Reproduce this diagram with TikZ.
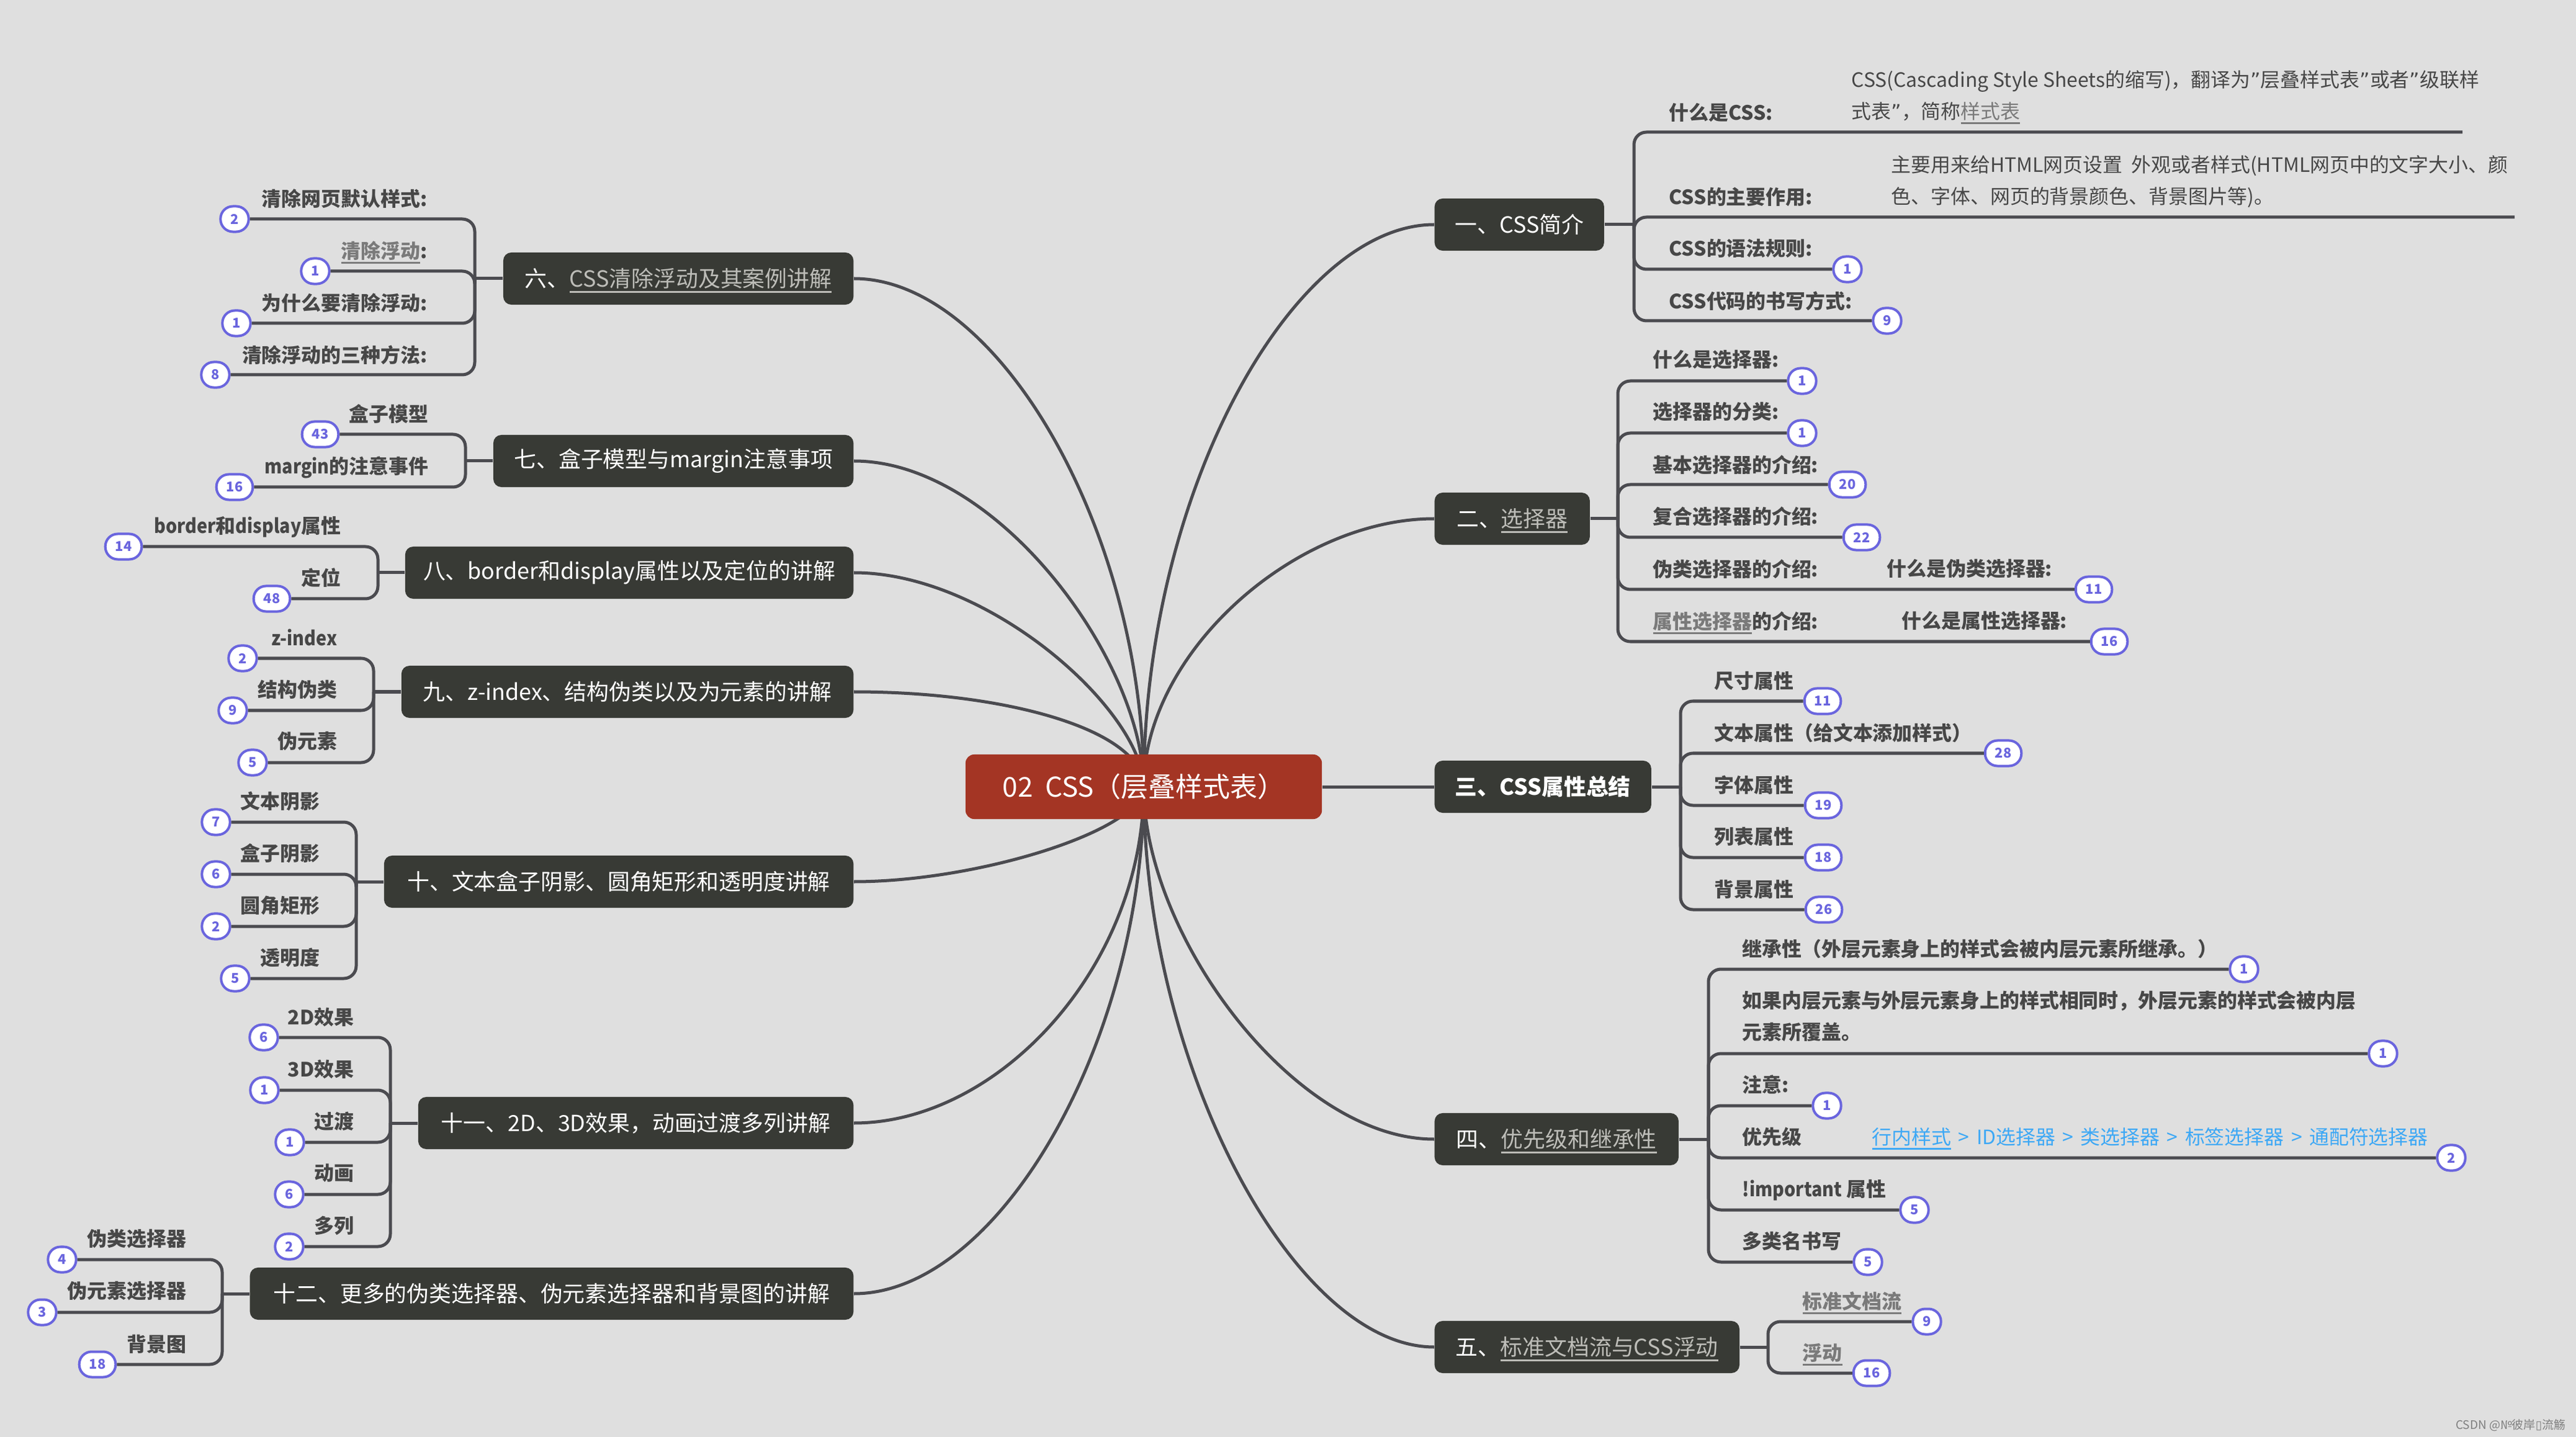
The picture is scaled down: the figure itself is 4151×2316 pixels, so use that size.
\documentclass[tikz,border=0pt]{standalone}
\usepackage{fontspec}
\setmainfont{Noto Sans CJK SC}
\newfontfamily\symfont{DejaVu Sans}
\usetikzlibrary{backgrounds}
\definecolor{paper}{HTML}{DFDFDF}
\definecolor{rootred}{HTML}{A43524}
\definecolor{boxdark}{HTML}{383A35}
\definecolor{wire}{HTML}{4B4B50}
\definecolor{inkdark}{HTML}{474747}
\definecolor{inkgray}{HTML}{7A7A7A}
\definecolor{boxgray}{HTML}{BDBDB8}
\definecolor{ringblue}{HTML}{6A65DE}
\definecolor{linkblue}{HTML}{3DA8F5}
\newcommand{\ulined}[1]{\setbox0=\hbox{#1}\rlap{\smash{\rule[-0.09cm]{\wd0}{0.03cm}}}\box0}
\newcommand{\inklink}[1]{{\color{inkgray}\ulined{#1}}}
\newcommand{\boxlink}[1]{{\color{boxgray}\ulined{#1}}}
\newcommand{\nar}[1]{{\addfontfeature{FakeStretch=0.9}#1}}
\newcommand{\gtsep}{\hspace{0.115cm}>\hspace{0.115cm}}
\newcommand{\nq}{{\symfont ”}}
\tikzset{
    rootbox/.style={rectangle,rounded corners=0.14cm,fill=rootred,text=white,minimum width=5.74cm,minimum height=1.04cm,inner sep=0pt,font=\fontsize{12.5pt}{15pt}\selectfont},
    brbox/.style={rectangle,rounded corners=0.13cm,fill=boxdark,text=white,minimum height=0.84cm,inner sep=0pt,font=\fontsize{10.2pt}{13pt}\selectfont},
    leaf/.style={inner sep=0pt,text=inkdark,align=left,font=\fontsize{9.07pt}{14.5pt}\selectfont\bfseries},
    note/.style={inner sep=0pt,text=inkdark,align=left,anchor=west,font=\fontsize{9.07pt}{14.5pt}\selectfont},
    badge/.style={rectangle,draw=ringblue,line width=0.04cm,fill=white,text=ringblue,rounded corners=0.2cm,minimum height=0.41cm,minimum width=0.42cm,inner xsep=0.16cm,inner ysep=0pt,font=\fontsize{6.2pt}{7pt}\selectfont\bfseries},
    limb/.style={draw=wire,line width=0.05cm},
    twig/.style={draw=wire,line width=0.05cm,rounded corners=0.2cm},
}
\begin{document}
\begin{tikzpicture}[x=0.01cm,y=-0.01cm]
    \useasboundingbox (0,0) rectangle (4151,2316);
    \node[rootbox] (root) at (1843,1268) {02\ \ CSS（层叠样式表）};
    % right side
    \node[brbox,anchor=west,minimum width=2.73cm] (b1) at (2311,362) {一、CSS简介};
    \node[brbox,anchor=west,minimum width=2.50cm] (b2) at (2311,836) {二、\boxlink{选择器}};
    \node[brbox,anchor=west,minimum width=3.49cm] (b3) at (2311,1268) {\bfseries 三、CSS属性总结};
    \node[brbox,anchor=west,minimum width=3.93cm] (b4) at (2311,1836) {四、\boxlink{优先级和继承性}};
    \node[brbox,anchor=west,minimum width=4.91cm] (b5) at (2311,2171) {五、\boxlink{标准文档流与CSS浮动}};
    % left side
    \node[brbox,anchor=east,minimum width=5.64cm] (b6) at (1376,449) {六、\boxlink{CSS清除浮动及其案例讲解}};
    \node[brbox,anchor=east,minimum width=5.80cm] (b7) at (1376,743) {七、盒子模型与margin注意事项};
    \node[brbox,anchor=east,minimum width=7.22cm] (b8) at (1376,923) {八、border和display属性以及定位的讲解};
    \node[brbox,anchor=east,minimum width=7.28cm] (b9) at (1376,1115) {九、z-index、结构伪类以及为元素的讲解};
    \node[brbox,anchor=east,minimum width=7.56cm] (b10) at (1376,1421) {十、文本盒子阴影、圆角矩形和透明度讲解};
    \node[brbox,anchor=east,minimum width=7.01cm] (b11) at (1376,1810) {十一、2D、3D效果，动画过渡多列讲解};
    \node[brbox,anchor=east,minimum width=9.72cm] (b12) at (1376,2085) {十二、更多的伪类选择器、伪元素选择器和背景图的讲解};
    \begin{scope}[on background layer]
        \fill[paper] (0,0) rectangle (4151,2316);
        \draw[limb] (root.center) .. controls +(0,-480) and +(-225,0) .. (b1.west);
        \draw[limb] (root.center) .. controls +(0,-215) and +(-225,0) .. (b2.west);
        \draw[limb] (root.east) -- (b3.west);
        \draw[limb] (root.center) .. controls +(0,240) and +(-225,0) .. (b4.west);
        \draw[limb] (root.center) .. controls +(0,450) and +(-225,0) .. (b5.west);
        \draw[limb] (root.center) .. controls +(0,-410) and +(233,0) .. (b6.east);
        \draw[limb] (root.center) .. controls +(0,-200) and +(233,0) .. (b7.east);
        \draw[limb] (root.center) .. controls +(0,-120) and +(220,0) .. (b8.east);
        \draw[limb] (root.center) .. controls +(0,-90) and +(250,0) .. (b9.east);
        \draw[limb] (root.center) .. controls +(0,70) and +(200,0) .. (b10.east);
        \draw[limb] (root.center) .. controls +(0,290) and +(233,0) .. (b11.east);
        \draw[limb] (root.center) .. controls +(0,410) and +(233,0) .. (b12.east);
    \end{scope}
    % 1
    \coordinate (t1) at (2633,362);\draw[twig] (b1.east) -- (t1);
    \coordinate (e1a) at (3968,213);\coordinate (e1b) at (4052,350);
    \node[leaf,anchor=west] (l1a) at (2689,181) {什么是CSS:};
    \node[note] (d1a) at (2983,154) {CSS(Cascading Style Sheets的缩写)，翻译为\nq 层叠样式表\nq 或者\nq 级联样\\式表\nq ，简称\inklink{样式表}};
    \draw[twig] (t1) |- (e1a);
    \node[leaf,anchor=west] (l1b) at (2689,317) {CSS的主要作用:};
    \node[note] (d1b) at (3047,293) {主要用来给HTML网页设置\ \ 外观或者样式(HTML网页中的文字大小、颜\\色、字体、网页的背景颜色、背景图片等)。};
    \draw[twig] (t1) |- (e1b);
    \node[leaf,anchor=west] (l1c) at (2689,400) {CSS的语法规则:};\node[badge] (n1c) at (2977,434) {1};\draw[twig] (t1) |- (n1c.west);
    \node[leaf,anchor=west] (l1d) at (2689,485) {CSS代码的书写方式:};\node[badge] (n1d) at (3041,517) {9};\draw[twig] (t1) |- (n1d.west);
    % 2
    \coordinate (t2) at (2607,836);\draw[twig] (b2.east) -- (t2);
    \node[leaf,anchor=west] (l2a) at (2663,580) {什么是选择器:};\node[badge] (n2a) at (2904,614) {1};\draw[twig] (t2) |- (n2a.west);
    \node[leaf,anchor=west] (l2b) at (2663,664) {选择器的分类:};\node[badge] (n2b) at (2904,698) {1};\draw[twig] (t2) |- (n2b.west);
    \node[leaf,anchor=west] (l2c) at (2663,749) {基本选择器的介绍:};\node[badge] (n2c) at (2977,781) {20};\draw[twig] (t2) |- (n2c.west);
    \node[leaf,anchor=west] (l2d) at (2663,832) {复合选择器的介绍:};\node[badge] (n2d) at (3000,866) {22};\draw[twig] (t2) |- (n2d.west);
    \node[leaf,anchor=west] (l2e) at (2663,917) {伪类选择器的介绍:};\node[leaf,anchor=west] (m2e) at (3040,917) {什么是伪类选择器:};\node[badge] (n2e) at (3374,950) {11};\draw[twig] (t2) |- (n2e.west);
    \node[leaf,anchor=west] (l2f) at (2663,1001) {\inklink{属性选择器}的介绍:};\node[leaf,anchor=west] (m2f) at (3064,1001) {什么是属性选择器:};\node[badge] (n2f) at (3399,1034) {16};\draw[twig] (t2) |- (n2f.west);
    % 3
    \coordinate (t3) at (2708,1268);\draw[twig] (b3.east) -- (t3);
    \node[leaf,anchor=west] (l3a) at (2762,1097) {尺寸属性};\node[badge] (n3a) at (2937,1130) {11};\draw[twig] (t3) |- (n3a.west);
    \node[leaf,anchor=west] (l3b) at (2762,1181) {文本属性（给文本添加样式）};\node[badge] (n3b) at (3228,1214) {28};\draw[twig] (t3) |- (n3b.west);
    \node[leaf,anchor=west] (l3c) at (2762,1265) {字体属性};\node[badge] (n3c) at (2938,1298) {19};\draw[twig] (t3) |- (n3c.west);
    \node[leaf,anchor=west] (l3d) at (2762,1349) {列表属性};\node[badge] (n3d) at (2938,1382) {18};\draw[twig] (t3) |- (n3d.west);
    \node[leaf,anchor=west] (l3e) at (2762,1433) {背景属性};\node[badge] (n3e) at (2939,1466) {26};\draw[twig] (t3) |- (n3e.west);
    % 4
    \coordinate (t4) at (2753,1836);\draw[twig] (b4.east) -- (t4);
    \node[leaf,anchor=west] (l4a) at (2807,1529) {继承性（外层元素身上的样式会被内层元素所继承。）};\node[badge] (n4a) at (3616,1562) {1};\draw[twig] (t4) |- (n4a.west);
    \node[leaf,anchor=west] (l4b) at (2807,1638) {如果内层元素与外层元素身上的样式相同时，外层元素的样式会被内层\\元素所覆盖。};\node[badge] (n4b) at (3840,1698) {1};\draw[twig] (t4) |- (n4b.west);
    \node[leaf,anchor=west] (l4c) at (2807,1748) {注意:};\node[badge] (n4c) at (2944,1782) {1};\draw[twig] (t4) |- (n4c.west);
    \node[leaf,anchor=west] (l4d) at (2807,1832) {优先级};\node[note,text=linkblue] (m4d) at (3016,1832) {\ulined{行内样式}\gtsep ID选择器\gtsep 类选择器\gtsep 标签选择器\gtsep 通配符选择器};\node[badge] (n4d) at (3950,1866) {2};\draw[twig] (t4) |- (n4d.west);
    \node[leaf,anchor=west] (l4e) at (2807,1918) {\nar{!important} 属性};\node[badge] (n4e) at (3085,1950) {5};\draw[twig] (t4) |- (n4e.west);
    \node[leaf,anchor=west] (l4f) at (2807,2000) {多类名书写};\node[badge] (n4f) at (3010,2034) {5};\draw[twig] (t4) |- (n4f.west);
    % 5
    \coordinate (t5) at (2849,2171);\draw[twig] (b5.east) -- (t5);
    \node[leaf,anchor=west] (l5a) at (2904,2097) {\inklink{标准文档流}};\node[badge] (n5a) at (3105,2130) {9};\draw[twig] (t5) |- (n5a.west);
    \node[leaf,anchor=west] (l5b) at (2904,2180) {\inklink{浮动}};\node[badge] (n5b) at (3016,2213) {16};\draw[twig] (t5) |- (n5b.west);
    % 6
    \coordinate (t6) at (765,449);\draw[twig] (b6.west) -- (t6);
    \node[leaf,anchor=east] (l6a) at (689,320) {清除网页默认样式:};\node[badge] (n6a) at (378,353) {2};\draw[twig] (t6) |- (n6a.east);
    \node[leaf,anchor=east] (l6b) at (689,404) {\inklink{清除浮动}:};\node[badge] (n6b) at (508,437) {1};\draw[twig] (t6) |- (n6b.east);
    \node[leaf,anchor=east] (l6c) at (689,488) {为什么要清除浮动:};\node[badge] (n6c) at (381,521) {1};\draw[twig] (t6) |- (n6c.east);
    \node[leaf,anchor=east] (l6d) at (689,572) {清除浮动的三种方法:};\node[badge] (n6d) at (347,604) {8};\draw[twig] (t6) |- (n6d.east);
    % 7
    \coordinate (t7) at (750,743);\draw[twig] (b7.west) -- (t7);
    \node[leaf,anchor=east] (l7a) at (691,667) {盒子模型};\node[badge] (n7a) at (516,700) {43};\draw[twig] (t7) |- (n7a.east);
    \node[leaf,anchor=east] (l7b) at (691,753) {\nar{margin}的注意事件};\node[badge] (n7b) at (378,785) {16};\draw[twig] (t7) |- (n7b.east);
    % 8
    \coordinate (t8) at (609,923);\draw[twig] (b8.west) -- (t8);
    \node[leaf,anchor=east] (l8a) at (550,849) {\nar{border}和\nar{display}属性};\node[badge] (n8a) at (199,881) {14};\draw[twig] (t8) |- (n8a.east);
    \node[leaf,anchor=east] (l8b) at (550,931) {定位};\node[badge] (n8b) at (438,965) {48};\draw[twig] (t8) |- (n8b.east);
    % 9
    \coordinate (t9) at (602,1115);\draw[twig] (b9.west) -- (t9);
    \node[leaf,anchor=east] (l9a) at (544,1027) {\nar{z-index}};\node[badge] (n9a) at (391,1061) {2};\draw[twig] (t9) |- (n9a.east);
    \node[leaf,anchor=east] (l9b) at (544,1111) {结构伪类};\node[badge] (n9b) at (375,1145) {9};\draw[twig] (t9) |- (n9b.east);
    \node[leaf,anchor=east] (l9c) at (544,1195) {伪元素};\node[badge] (n9c) at (407,1229) {5};\draw[twig] (t9) |- (n9c.east);
    % 10
    \coordinate (t10) at (574,1421);\draw[twig] (b10.west) -- (t10);
    \node[leaf,anchor=east] (l10a) at (516,1291) {文本阴影};\node[badge] (n10a) at (348,1325) {7};\draw[twig] (t10) |- (n10a.east);
    \node[leaf,anchor=east] (l10b) at (516,1375) {盒子阴影};\node[badge] (n10b) at (348,1409) {6};\draw[twig] (t10) |- (n10b.east);
    \node[leaf,anchor=east] (l10c) at (516,1459) {圆角矩形};\node[badge] (n10c) at (348,1493) {2};\draw[twig] (t10) |- (n10c.east);
    \node[leaf,anchor=east] (l10d) at (516,1543) {透明度};\node[badge] (n10d) at (379,1577) {5};\draw[twig] (t10) |- (n10d.east);
    % 11
    \coordinate (t11) at (629,1810);\draw[twig] (b11.west) -- (t11);
    \node[leaf,anchor=east] (l11a) at (571,1639) {2D效果};\node[badge] (n11a) at (425,1672) {6};\draw[twig] (t11) |- (n11a.east);
    \node[leaf,anchor=east] (l11b) at (571,1723) {3D效果};\node[badge] (n11b) at (426,1757) {1};\draw[twig] (t11) |- (n11b.east);
    \node[leaf,anchor=east] (l11c) at (571,1807) {过渡};\node[badge] (n11c) at (467,1841) {1};\draw[twig] (t11) |- (n11c.east);
    \node[leaf,anchor=east] (l11d) at (571,1891) {动画};\node[badge] (n11d) at (466,1925) {6};\draw[twig] (t11) |- (n11d.east);
    \node[leaf,anchor=east] (l11e) at (571,1975) {多列};\node[badge] (n11e) at (466,2009) {2};\draw[twig] (t11) |- (n11e.east);
    % 12
    \coordinate (t12) at (358,2085);\draw[twig] (b12.west) -- (t12);
    \node[leaf,anchor=east] (l12a) at (301,1997) {伪类选择器};\node[badge] (n12a) at (100,2030) {4};\draw[twig] (t12) |- (n12a.east);
    \node[leaf,anchor=east] (l12b) at (301,2081) {伪元素选择器};\node[badge] (n12b) at (68,2115) {3};\draw[twig] (t12) |- (n12b.east);
    \node[leaf,anchor=east] (l12c) at (301,2166) {背景图};\node[badge] (n12c) at (157,2199) {18};\draw[twig] (t12) |- (n12c.east);
    \node[anchor=east,inner sep=0pt,text=gray,font=\fontsize{5.4pt}{7pt}\selectfont] (mark) at (4135,2297) {CSDN @№彼岸{\symfont ▯}流觞};
\end{tikzpicture}
\end{document}
